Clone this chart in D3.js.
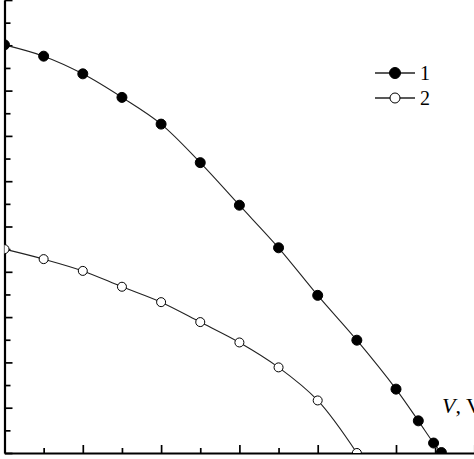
<!DOCTYPE html>
<html>
<head>
<meta charset="utf-8">
<script src="https://cdn.jsdelivr.net/npm/d3@7"></script>
<style>
  body { margin: 0; background: #fff; }
  svg { display: block; }
  .axis path, .axis line { stroke: #000; }
  .curve { fill: none; stroke: #222; stroke-width: 1.1; }
</style>
</head>
<body>
<svg id="chart"></svg>
<script>
//================DATA=========================
const xs1 = [0, 0.1, 0.2, 0.3, 0.4, 0.5, 0.6, 0.7, 0.8, 0.9, 1.0, 1.057, 1.096, 1.116];
const ys1 = [9.01, 8.76, 8.37, 7.85, 7.26, 6.41, 5.47, 4.53, 3.48, 2.49, 1.41, 0.71, 0.22, 0.01];
const xs2 = [0, 0.1, 0.2, 0.3, 0.4, 0.5, 0.6, 0.7, 0.8, 0.9];
const ys2 = [4.50, 4.28, 4.02, 3.67, 3.33, 2.89, 2.44, 1.89, 1.16, 0];
const xMajor = [0, 0.2, 0.4, 0.6, 0.8, 1.0, 1.2];
const xMinor = [0.1, 0.3, 0.5, 0.7, 0.9, 1.1];
const yMajor = [0, 1, 2, 3, 4, 5, 6, 7, 8, 9, 10];
const yMinor = [0.5, 1.5, 2.5, 3.5, 4.5, 5.5, 6.5, 7.5, 8.5, 9.5];
const legendLabels = ['1', '2'];
const xLabel = ['V', ', V'];

//================SETUP=========================
const width = 474;
const height = 459;
const x0 = 4.5, yBase = 453;

const svg = d3.select('#chart')
    .attr('width', width)
    .attr('height', height);

const x = d3.scaleLinear().domain([0, 1.2]).range([x0, x0 + 1.2 * 391.5]);
const y = d3.scaleLinear().domain([0, 10]).range([yBase, 0]);

//-------clip so points sit cut by the bottom axis
svg.append('clipPath').attr('id', 'plotclip')
  .append('rect')
    .attr('x', x0).attr('y', -10)
    .attr('width', width).attr('height', yBase + 10);

//================AXES=========================
function drawAxis(axis, tx, ty) {
  return svg.append('g')
      .attr('class', 'axis')
      .attr('transform', `translate(${tx},${ty})`)
      .call(axis);
}
drawAxis(d3.axisBottom(x).tickValues(xMinor).tickSizeInner(-5).tickSizeOuter(0).tickFormat(''), 0, yBase)
  .select('.domain').remove();
drawAxis(d3.axisBottom(x).tickValues(xMajor).tickSizeInner(-8).tickSizeOuter(0).tickFormat(''), 0, yBase);
drawAxis(d3.axisLeft(y).tickValues(yMinor).tickSizeInner(-6).tickSizeOuter(0).tickFormat(''), x0, 0)
  .select('.domain').remove();
drawAxis(d3.axisLeft(y).tickValues(yMajor).tickSizeInner(-8).tickSizeOuter(0).tickFormat(''), x0, 0);

svg.selectAll('.axis line').attr('stroke-width', 1.7);
svg.selectAll('.axis .domain').attr('stroke-width', 2.2);

//================CURVES=========================
const line = d3.line()
    .x(d => x(d[0]))
    .y(d => y(d[1]))
    .curve(d3.curveCatmullRom);

const series = [
  { pts: d3.zip(xs1, ys1), fill: '#000', r: 5 },
  { pts: d3.zip(xs2, ys2), fill: '#fff', r: 4.5 }
];

const plot = svg.append('g').attr('clip-path', 'url(#plotclip)');

series.forEach(s => {
  plot.append('path')
      .datum(s.pts)
      .attr('class', 'curve')
      .attr('d', line);
  plot.selectAll(null)
      .data(s.pts)
      .enter()
      .append('circle')
        .attr('cx', d => x(d[0]))
        .attr('cy', d => y(d[1]))
        .attr('r', s.r)
        .attr('fill', s.fill)
        .attr('stroke', '#000')
        .attr('stroke-width', 1);
});

//================LEGEND=========================
const legend = svg.selectAll('.legend')
    .data(legendLabels)
    .enter()
    .append('g')
      .attr('class', 'legend')
      .attr('transform', (d, i) => `translate(375,${73 + i * 25})`);

legend.append('line')
    .attr('x1', 0).attr('x2', 40)
    .attr('stroke', '#222').attr('stroke-width', 1.3);
legend.append('circle')
    .attr('cx', 20)
    .attr('r', (d, i) => series[i].r + 0.5)
    .attr('fill', (d, i) => series[i].fill)
    .attr('stroke', '#000');
legend.append('text')
    .attr('x', 45).attr('y', 7)
    .attr('font-family', 'Liberation Serif, Times New Roman, serif')
    .attr('font-size', 20)
    .text(d => d);

//-------axis title (cut off on the right like the source)
const title = svg.append('text')
    .attr('x', 442).attr('y', 413)
    .attr('font-family', 'Liberation Serif, Times New Roman, serif')
    .attr('font-size', 22);
title.append('tspan').attr('font-style', 'italic').text(xLabel[0]);
title.append('tspan').text(xLabel[1]);
</script>
</body>
</html>
